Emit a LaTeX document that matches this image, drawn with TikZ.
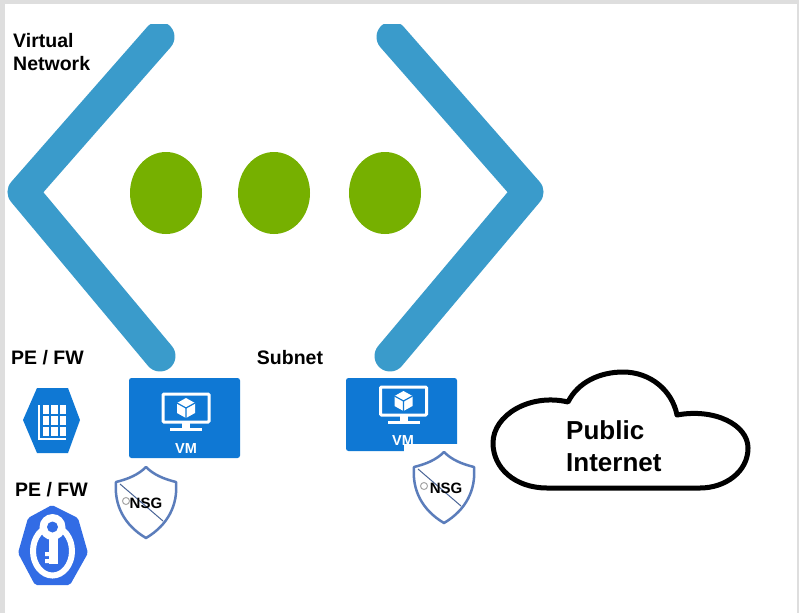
\documentclass[tikz,border=0pt]{standalone}
\usepackage{fontspec}
\usetikzlibrary{shapes.geometric}
\setmainfont{Liberation Sans}
\definecolor{frameGray}{HTML}{DEDEDE}
\definecolor{chevronBlue}{HTML}{3A9BCB}
\definecolor{dotGreen}{HTML}{76B000}
\definecolor{vmBlue}{HTML}{0F78D4}
\definecolor{keyBlue}{HTML}{326CE5}
\definecolor{shieldBlue}{HTML}{5B7DBB}
\tikzset{
	boldtext/.style={font=\bfseries\fontsize{19.5}{23}\selectfont,inner sep=0pt,align=left},
	chevron/.style={draw=chevronBlue,line width=31pt,line cap=round,line join=round},
	greendot/.style={ellipse,fill=dotGreen,minimum width=72pt,minimum height=82pt,inner sep=0pt},
	vmbox/.style={fill=vmBlue,rounded corners=2.5pt,minimum width=111pt,inner sep=0pt},
	vmtext/.style={white,font=\bfseries\fontsize{14.5}{16}\selectfont,inner sep=0pt},
	nsgtext/.style={font=\bfseries\fontsize{15}{17}\selectfont,inner sep=0pt},
	vmicon/.pic={
		\draw[white,line width=3pt,rounded corners=1pt] (-23,-14) rectangle (23,14);
		\fill[white] (-4,14) rectangle (4,20);
		\fill[white] (-16,20) rectangle (16,23);
		\fill[white] (0,-10) -- (9,-5) -- (9,5) -- (0,10) -- (-9,5) -- (-9,-5) -- cycle;
		\draw[vmBlue,line width=1.2pt,line join=round] (-9,-5) -- (0,0) -- (9,-5) (0,0) -- (0,10);
	},
	shieldicon/.pic={
		\draw[shieldBlue,line width=2.5pt,line join=round,fill=white] (0,-36) .. controls (8,-28) and (18,-24) .. (30,-21)
			.. controls (32,2) and (22,22) .. (0,35)
			.. controls (-22,22) and (-32,2) .. (-30,-21)
			.. controls (-18,-24) and (-8,-28) .. cycle;
		\draw[shieldBlue!80!black,line width=1pt] (-26,-19) -- (17,18);
		\draw[gray!70,line width=1pt] (-20,-2) circle (3.5);
	}
}

\begin{document}
\begin{tikzpicture}[x=1pt,y=-1pt]
	\useasboundingbox (0,0) rectangle (799,613);
	% frame of the page
	\fill[frameGray] (0,0) rectangle (799,613);
	\fill[white] (5,4) rectangle (797,613);

	% Virtual network symbol
	\begin{scope}
		\clip (0,24) rectangle (799,613);
		\draw[chevron] (159,37) -- (23,192) -- (160,356);
		\draw[chevron] (392,37) -- (528,192) -- (390,356);
	\end{scope}
	\node[greendot] (DotLeft) at (166,193) {};
	\node[greendot] (DotMiddle) at (274,193) {};
	\node[greendot] (DotRight) at (385,193) {};

	\node[boldtext,anchor=west] (VirtualNetwork) at (13,52) {Virtual\\Network};
	\node[boldtext,anchor=west] (PeFwTop) at (11,358) {PE / FW};
	\node[boldtext,anchor=west] (PeFwBottom) at (15,490) {PE / FW};
	\node[boldtext] (Subnet) at (290,358) {Subnet};

	% Subnet with its VMs
	\node[vmbox,minimum height=80pt] (VmLeft) at (184.5,418) {};
	\pic at (186,408) {vmicon};
	\node[vmtext] (VmLeftText) at (186,449) {VM};
	\node[vmbox,minimum height=73pt] (VmRight) at (401.5,414.5) {};
	\pic at (403.5,401) {vmicon};
	\node[vmtext] (VmRightText) at (403,441) {VM};
	\fill[white] (404,444) rectangle (458,452);

	% NSG shields
	\pic at (146,503) {shieldicon};
	\node[nsgtext] (NsgLeft) at (146,503) {NSG};
	\pic at (444,488) {shieldicon};
	\node[nsgtext] (NsgRight) at (446,488) {NSG};

	% PE / FW icons
	\fill[vmBlue] (23,420) -- (37,388) -- (68,388) -- (80,420) -- (68,453) -- (37,453) -- cycle;
	\foreach \col in {0,1,2}
		\foreach \row in {0,1,2}
			\fill[white] ({42.5+8.6*\col},{405+11.2*\row}) rectangle +(6.4,9);
	\draw[white,line width=1.4pt] (39,405) -- (39,439) -- (66,439);

	\fill[keyBlue,rounded corners=2pt] (52,505) -- (78,518) -- (88,553) -- (70,585) -- (35,585) -- (18,553) -- (28,518) -- cycle;
	\draw[white,line width=6pt] (52.5,551) ellipse (19.5 and 24.5);
	\fill[keyBlue] (41,515) rectangle (64,530);
	\fill[white] (49,530) rectangle (58,564);
	\fill[white] (52.5,527) circle (13);
	\fill[keyBlue] (52.5,527) circle (5.5);
	\fill[white] (45,552) rectangle (49,556) (45,559) rectangle (49,563);

	% Public Internet cloud
	\draw[line width=5pt,line join=round,fill=white] (547,488)
		.. controls (515,488) and (493,468) .. (493,443)
		.. controls (493,415) and (530,393) .. (568,402)
		.. controls (578,382) and (600,372) .. (623,372)
		.. controls (650,372) and (672,390) .. (677,415)
		.. controls (715,408) and (748,425) .. (748,448)
		.. controls (748,472) and (725,488) .. (700,488)
		-- cycle;
	\node[font=\bfseries\fontsize{26}{32}\selectfont,inner sep=0pt,align=left,anchor=west] (PublicInternet) at (566,446) {Public\\Internet};
\end{tikzpicture}
\end{document}
